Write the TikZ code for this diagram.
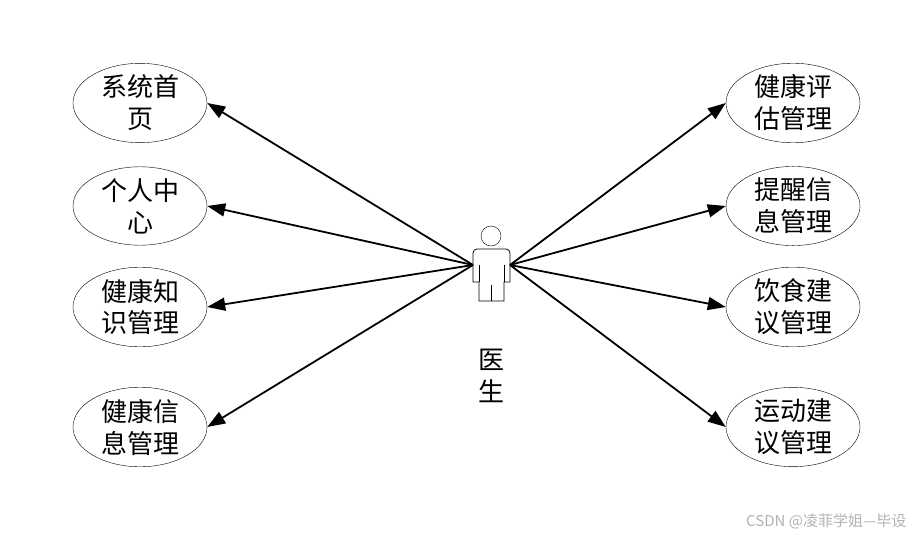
\documentclass[tikz,border=0pt]{standalone}
\usepackage{fontspec}
\newfontfamily\cjk{Noto Sans CJK SC}
\usetikzlibrary{arrows.meta,shapes.geometric}
\begin{document}
\begin{tikzpicture}[x=1pt,y=-1pt,
  uc/.style={draw,ellipse,minimum width=134pt,minimum height=60pt,inner sep=0pt,align=center,font=\cjk\fontsize{26}{32}\selectfont},
  arr/.style={line width=1.8pt,-{Triangle[length=18pt,width=13pt]}}]
\useasboundingbox (0,0) rectangle (913,535);
\foreach \n/\y/\t in {l1/103/{系统首\\页},l2/206/{个人中\\心},l3/307/{健康知\\识管理},l4/427/{健康信\\息管理}}
  \node[uc] (\n) at (140,\y) {\t};
\foreach \n/\y/\t in {r1/103/{健康评\\估管理},r2/206/{提醒信\\息管理},r3/307/{饮食建\\议管理},r4/427/{运动建\\议管理}}
  \node[uc] (\n) at (793,\y) {\t};
% actor
\coordinate (al) at (473,265);
\coordinate (ar) at (510,265);
\draw (491,236) circle (10);
\draw[line width=0.8pt] (479,301) -- (479,282) -- (473,282) -- (473,253) arc (180:270:4) -- (506,249) arc (270:360:4) -- (510,282) -- (504,282) -- (504,301) -- cycle;
\draw (491,301) -- (491,285);
\draw (479,282)--(479,265) (504,282)--(504,265);
\node[font=\cjk\fontsize{26}{32}\selectfont,align=center] (lab) at (491,376) {医\\生};
\foreach \n in {l1,l2,l3,l4} \draw[arr] (al) -- (\n.east);
\foreach \n in {r1,r2,r3,r4} \draw[arr] (ar) -- (\n.west);
\node[font=\cjk\fontsize{15}{16}\selectfont,text=gray!60,anchor=east] (wm) at (910,521) {CSDN @凌菲学姐—毕设};
\end{tikzpicture}
\end{document}
